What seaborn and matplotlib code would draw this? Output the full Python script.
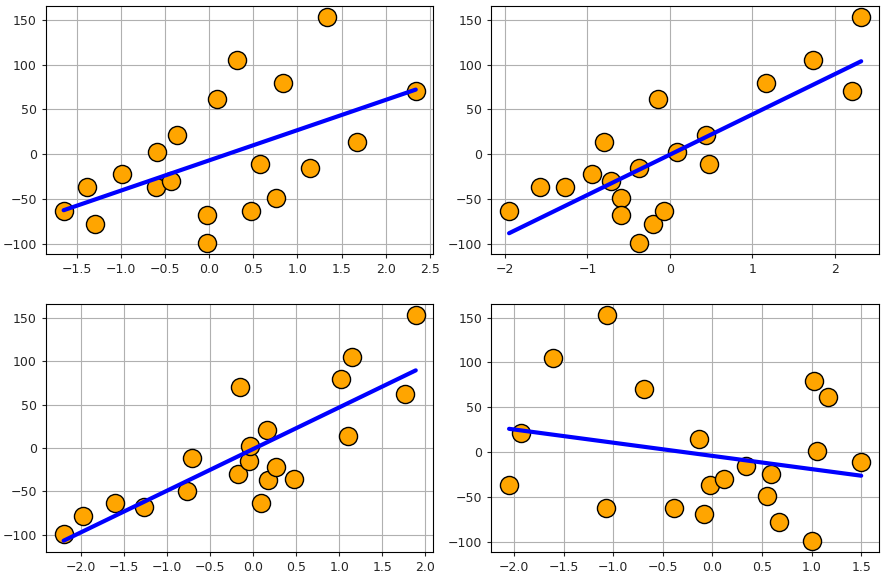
import matplotlib
matplotlib.use("Agg")
import matplotlib.pyplot as plt
import seaborn as sns
import numpy as np

sns.set_style("white")

x1 = [-1.65,-1.38,-1.29,-0.99,-0.59,-0.60,-0.43,-0.36,-0.02,-0.03,0.09,0.31,0.47,0.58,0.76,0.84,1.14,1.33,1.67,2.34]
y1 = [-63,-37,-78,-22,2,-37,-30,21,-68,-99,62,105,-63,-11,-49,79,-15,153,14,70]
x2 = [-1.95,-1.57,-1.27,-0.95,-0.80,-0.72,-0.59,-0.59,-0.38,-0.38,-0.20,-0.15,-0.07,0.09,0.44,0.47,1.16,1.74,2.21,2.32]
y2 = [-64,-37,-37,-22,14,-30,-49,-68,-15,-99,-78,62,-63,2,21,-11,79,105,70,153]
x3 = [-2.20,-1.97,-1.60,-1.27,-0.77,-0.71,-0.17,-0.15,-0.05,-0.03,0.09,0.16,0.17,0.27,0.47,1.02,1.10,1.15,1.77,1.89]
y3 = [-99,-78,-63,-68,-49,-11,-30,70,-15,2,-63,21,-37,-22,-36,79,14,105,62,153]
x4 = [-2.05,-1.93,-1.61,-1.06,-1.07,-0.69,-0.39,-0.14,-0.08,-0.02,0.12,0.34,0.55,0.59,0.67,1.00,1.02,1.05,1.17,1.50]
y4 = [-37,21,105,153,-63,70,-63,14,-69,-37,-30,-16,-49,-24,-78,-99,79,1,62,-11]

datasets = [(x1, y1), (x2, y2), (x3, y3), (x4, y4)]

fig, axes = plt.subplots(2, 2, figsize=(8.85, 5.75), dpi=100)
for ax, (x, y) in zip(axes.flat, datasets):
    sns.regplot(x=np.array(x), y=np.array(y), ax=ax, ci=None, truncate=True,
                scatter_kws=dict(s=170, color="orange", edgecolor="black", linewidths=1, alpha=1, zorder=2),
                line_kws=dict(color="blue", lw=3, zorder=3))
    ax.grid(True, color="#b0b0b0", lw=0.8)
    ax.set_axisbelow(True)
    ax.set_yticks([-100, -50, 0, 50, 100, 150])
    ax.tick_params(labelsize=9, length=3, left=True, bottom=True)
    for s in ax.spines.values():
        s.set_color("black"); s.set_linewidth(0.8)

axes[0, 0].set_xticks(np.arange(-1.5, 2.51, 0.5))
axes[0, 1].set_xticks([-2, -1, 0, 1, 2])
axes[1, 0].set_xticks(np.arange(-2.0, 2.01, 0.5))
axes[1, 1].set_xticks(np.arange(-2.0, 1.51, 0.5))

plt.subplots_adjust(left=0.052, right=0.993, top=0.99, bottom=0.04, wspace=0.15, hspace=0.2)
fig.savefig("out.png")
